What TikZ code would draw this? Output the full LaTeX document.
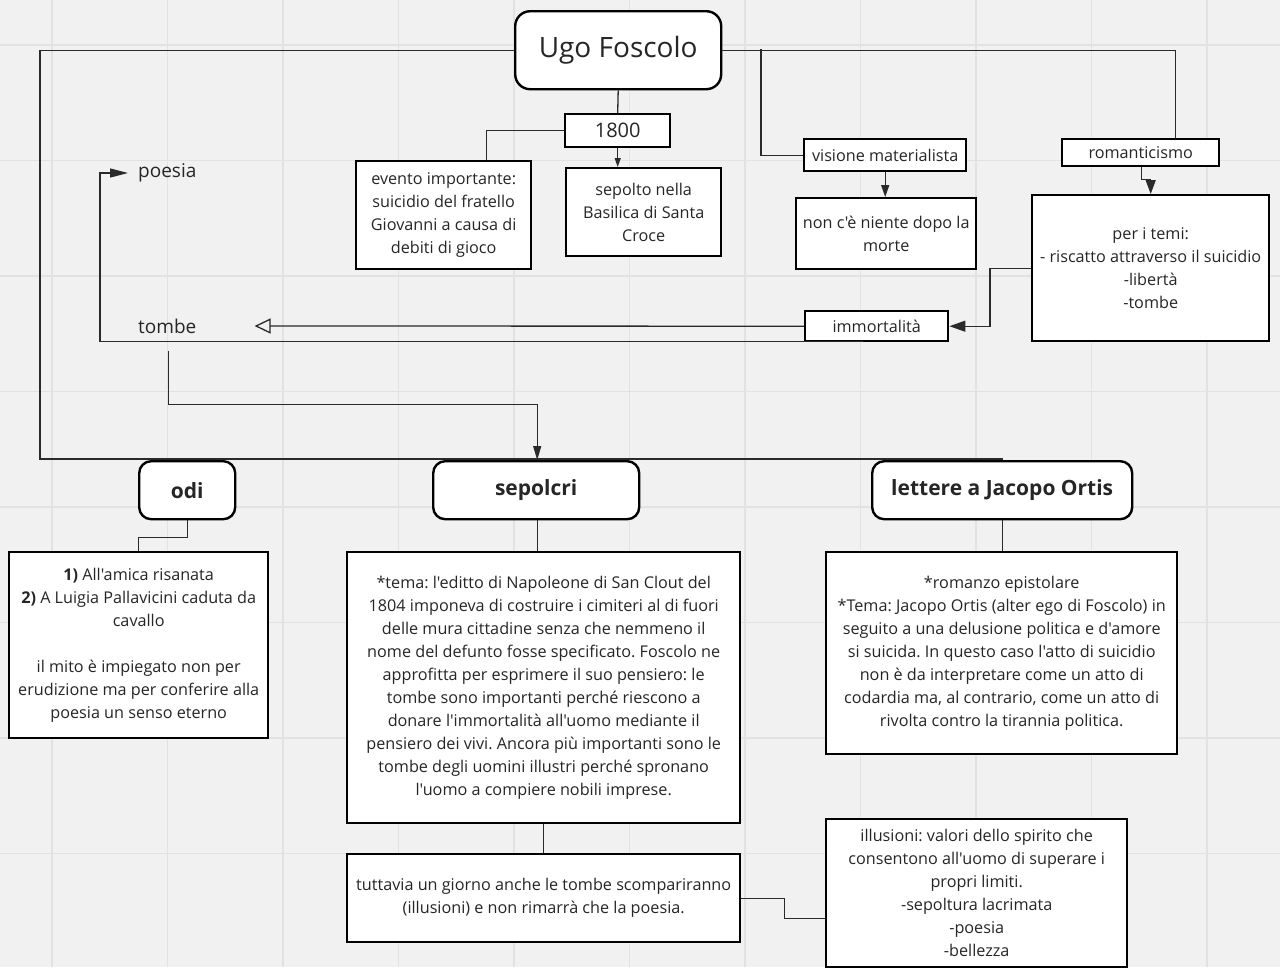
\documentclass[tikz,border=0pt]{standalone}
\usepackage{fontspec}
\setmainfont{Open Sans}[Ligatures=TeXOff]
\usetikzlibrary{arrows.meta,calc}
\definecolor{bgc}{HTML}{F1F1F1}
\definecolor{gridc}{HTML}{E2E2E2}
\definecolor{linec}{HTML}{2A2A2A}
\frenchspacing
\begin{document}
\begin{tikzpicture}[x=1pt,y=-1pt,
  box/.style={draw=black, line width=2.4pt, fill=white, align=center, inner sep=0pt, anchor=north west, text=black!85,
    font=\fontsize{16.2}{23}\selectfont},
  rbox/.style={box, rounded corners=12pt, font=\fontsize{21}{24}\selectfont\bfseries},
  lbl/.style={inner sep=5pt, anchor=west, text=black!85, font=\fontsize{19}{23}\selectfont},
  conn/.style={draw=linec, line width=1.3pt},
  arr/.style={conn, -{Triangle[length=12pt,width=8pt]}}]
\useasboundingbox (0,0) rectangle (1280,967);
\fill[bgc] (0,0) rectangle (1280,967);
\foreach \i in {0,...,10} \draw[gridc, line width=1.2pt] (52+115.5*\i,0) -- (52+115.5*\i,967);
\foreach \j in {0,...,8} \draw[gridc, line width=1.2pt] (0,45+115.5*\j) -- (1280,45+115.5*\j);

% nodes
\node[box, rounded corners=15pt, minimum width=206pt, minimum height=78pt, font=\fontsize{28}{34}\selectfont] (ugo) at (514,10) {\raisebox{-2pt}{Ugo Foscolo}};
\node[box, minimum width=105pt, minimum height=33pt, font=\fontsize{20}{24}\selectfont] (y1800) at (564,113) {1800};
\node[box, minimum width=175pt, minimum height=108pt] (evento) at (355,160) {evento importante:\\suicidio del fratello\\Giovanni a causa di\\debiti di gioco};
\node[box, minimum width=155pt, minimum height=88pt] (sepolto) at (565,167) {sepolto nella\\Basilica di Santa\\Croce};
\node[box, minimum width=162pt, minimum height=32pt] (visione) at (803,138) {visione materialista};
\node[box, minimum width=180pt, minimum height=71pt] (non) at (795,197) {non c'è niente dopo la\\morte};
\node[box, minimum width=157pt, minimum height=27pt] (romant) at (1061,138) {romanticismo};
\node[box, minimum width=237pt, minimum height=146pt] (pertemi) at (1031,194) {per i temi:\\- riscatto attraverso il suicidio\\-libertà\\-tombe};
\node[box, minimum width=143pt, minimum height=30pt] (immort) at (804,310) {immortalità};
\node[lbl] (poesia) at (133,173) {poesia};
\node[lbl] (tombe) at (133,326) {tombe};
\node[rbox, minimum width=96pt, minimum height=58pt] (odi) at (138,460) {odi};
\node[rbox, minimum width=206pt, minimum height=58pt] (sepolcri) at (432,460) {sepolcri};
\node[rbox, minimum width=260pt, minimum height=58pt] (lettere) at (871,460) {lettere a Jacopo Ortis};
\node[box, minimum width=259pt, minimum height=186pt] (oditext) at (8,551) {\textbf{1)} All'amica risanata\\\textbf{2)} A Luigia Pallavicini caduta da\\cavallo\\[23pt]il mito è impiegato non per\\erudizione ma per conferire alla\\poesia un senso eterno};
\node[box, minimum width=393pt, minimum height=271pt] (septext) at (346,551) {*tema: l'editto di Napoleone di San Clout del\\1804 imponeva di costruire i cimiteri al di fuori\\delle mura cittadine senza che nemmeno il\\nome del defunto fosse specificato. Foscolo ne\\approfitta per esprimere il suo pensiero: le\\tombe sono importanti perché riescono a\\donare l'immortalità all'uomo mediante il\\pensiero dei vivi. Ancora più importanti sono le\\tombe degli uomini illustri perché spronano\\l'uomo a compiere nobili imprese.};
\node[box, minimum width=351pt, minimum height=202pt] (lettext) at (825,551) {*romanzo epistolare\\*Tema: Jacopo Ortis (alter ego di Foscolo) in\\seguito a una delusione politica e d'amore\\si suicida. In questo caso l'atto di suicidio\\non è da interpretare come un atto di\\codardia ma, al contrario, come un atto di\\rivolta contro la tirannia politica.};
\node[box, minimum width=393pt, minimum height=88pt] (tuttavia) at (346,853) {tuttavia un giorno anche le tombe scompariranno\\(illusioni) e non rimarrà che la poesia.};
\node[box, minimum width=301pt, minimum height=148pt] (illus) at (825,818) {illusioni: valori dello spirito che\\consentono all'uomo di superare i\\propri limiti.\\-sepoltura lacrimata\\-poesia\\-bellezza};

% connectors
\coordinate (rail) at (40,459);
\draw[conn] (ugo.west) -| (rail) -| (lettere.north);
\draw[conn] (ugo.south) -- (y1800.north);
\draw[conn] (y1800.west) -| ([xshift=42.5pt]evento.north);
\draw[arr, -{Triangle[length=9pt,width=6pt]}] (y1800.south) -- (y1800.south |- sepolto.north);
\draw[conn] (ugo.east) -| ([xshift=34.5pt]romant.north);
\coordinate (branch) at (761,49);
\draw[conn] (branch) |- (visione.west);
\draw[arr] (visione.south) -- (visione.south |- non.north);
\draw[conn, -{Triangle[length=14pt,width=10pt]}] ([xshift=1pt]romant.south) -- ++(0,12) -| (pertemi.north);
\draw[conn, -{Triangle[length=16pt,width=11pt]}] (pertemi.west) -- ++(-41,0) |- (immort.east);
\draw[conn, -{Triangle[open,length=16pt,width=15pt]}] (immort.west) -- ([xshift=53pt]tombe.east);
\draw[conn, -{Triangle[length=18pt,width=9pt]}] ([xshift=59pt,yshift=1pt]immort.south west) -| ([xshift=-33pt]poesia.west) -- ([xshift=-5pt]poesia.west);
\draw[conn, -{Triangle[length=14pt,width=8pt]}] ([xshift=1.5pt,yshift=-12pt]tombe.south) -- ++(0,54) -| ([xshift=1pt]sepolcri.north);
\draw[conn] (odi.south) -- ++(0,17) -| (oditext.north);
\draw[conn] ([xshift=1pt]sepolcri.south) -- ([xshift=1pt]sepolcri.south |- septext.north);
\draw[conn] (lettere.south) -- (lettere.south |- lettext.north);
\draw[conn] (septext.south) -- (tuttavia.north);
\draw[conn] (tuttavia.east) -- ++(43,0) |- ([yshift=-25pt]illus.west);
\end{tikzpicture}
\end{document}
